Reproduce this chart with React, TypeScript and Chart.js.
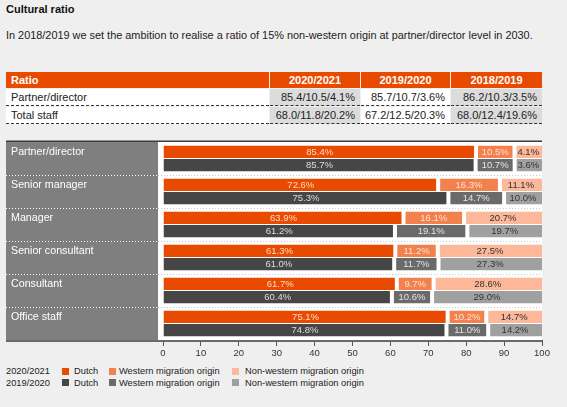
import React, { useEffect, useRef } from "react";
import { Chart, registerables } from "chart.js";

Chart.register(...registerables);

const FONT = '"Liberation Sans", Arial, Helvetica, sans-serif';

const titleText = "Cultural ratio";
const subtitleText =
  "In 2018/2019 we set the ambition to realise a ratio of 15% non-western origin at partner/director level in 2030.";

const tableHeaders = ["Ratio", "2020/2021", "2019/2020", "2018/2019"];
const tableRowLabels = ["Partner/director", "Total staff"];
const partnerRatios = ["85.4/10.5/4.1%", "85.7/10.7/3.6%", "86.2/10.3/3.5%"];
const totalStaffRatios = ["68.0/11.8/20.2%", "67.2/12.5/20.3%", "68.0/12.4/19.6%"];

const categories = [
  "Partner/director",
  "Senior manager",
  "Manager",
  "Senior consultant",
  "Consultant",
  "Office staff",
];
const periods = ["2020/2021", "2019/2020"];
const seriesNames = ["Dutch", "Western migration origin", "Non-western migration origin"];

const dutch2021 = [85.4, 72.6, 63.9, 61.3, 61.7, 75.1];
const western2021 = [10.5, 16.3, 16.1, 11.2, 9.7, 10.2];
const nonWestern2021 = [4.1, 11.1, 20.7, 27.5, 28.6, 14.7];
const dutch2020 = [85.7, 75.3, 61.2, 61.0, 60.4, 74.8];
const western2020 = [10.7, 14.7, 19.1, 11.7, 10.6, 11.0];
const nonWestern2020 = [3.6, 10.0, 19.7, 27.3, 29.0, 14.2];

const xMin = 0;
const xMax = 100;
const xStep = 10;

const colors2021 = ["#e84b00", "#f3814d", "#fcb898"];
const colors2020 = ["#464646", "#6a6a6a", "#a0a0a0"];
const labelColors2021 = ["#ffd9c6", "#fde2d4", "#333333"];
const labelColors2020 = ["#dddddd", "#e4e4e4", "#333333"];

const PAGE_BG = "#efefef";
const PANEL_GRAY = "#7f7f7f";

// Like the source infographic: tiny segments get a minimum width so their
// label fits, then each bar is normalised to fill at most 100.
const MIN_SEGMENT = 7.5;
function displayStack(series: number[][]): number[][] {
  const out = series.map(() => [] as number[]);
  for (let i = 0; i < series[0].length; i++) {
    const vals = series.map((s) => Math.max(s[i], MIN_SEGMENT));
    const sum = vals.reduce((a, b) => a + b, 0);
    const k = sum > xMax ? xMax / sum : 1;
    vals.forEach((v, j) => out[j].push(v * k));
  }
  return out;
}

export default function App() {
  const canvasRef = useRef<HTMLCanvasElement | null>(null);

  useEffect(() => {
    document.body.style.margin = "0";
    document.body.style.background = PAGE_BG;
    const canvas = canvasRef.current;
    if (!canvas) return;

    const raw2021 = [dutch2021, western2021, nonWestern2021];
    const raw2020 = [dutch2020, western2020, nonWestern2020];
    const disp2021 = displayStack(raw2021);
    const disp2020 = displayStack(raw2020);
    const rawAll = [...raw2021, ...raw2020];

    const mk = (
      label: string,
      data: number[],
      color: string,
      stack: string,
      idx: number
    ) => ({
      label,
      data,
      backgroundColor: color,
      borderColor: "#ffffff",
      borderWidth: { top: 0, bottom: 0, left: idx > 0 ? 2 : 0, right: idx < 2 ? 2 : 0 },
      borderSkipped: false,
      stack,
      barPercentage: 0.93,
      categoryPercentage: 0.81,
    });

    const datasets = [
      mk(seriesNames[0], disp2021[0], colors2021[0], "a", 0),
      mk(seriesNames[1], disp2021[1], colors2021[1], "a", 1),
      mk(seriesNames[2], disp2021[2], colors2021[2], "a", 2),
      mk(seriesNames[0], disp2020[0], colors2020[0], "b", 0),
      mk(seriesNames[1], disp2020[1], colors2020[1], "b", 1),
      mk(seriesNames[2], disp2020[2], colors2020[2], "b", 2),
    ];
    const labelColors = [...labelColors2021, ...labelColors2020];

    const decor = {
      id: "decor",
      beforeDatasetsDraw(chart: any) {
        const { ctx, chartArea } = chart;
        const top = chartArea.top;
        const bottom = chartArea.bottom;
        const right = chartArea.right;
        ctx.save();
        ctx.fillStyle = PANEL_GRAY;
        ctx.fillRect(6, top, 152, bottom - top);
        ctx.fillStyle = "#ffffff";
        ctx.fillRect(158, top, right - 158, bottom - top);
        const rowH = (bottom - top) / categories.length;
        ctx.lineWidth = 1;
        ctx.setLineDash([1, 2]);
        for (let i = 1; i < categories.length; i++) {
          const y = Math.round(top + rowH * i) + 0.5;
          ctx.strokeStyle = "#ffffff";
          ctx.beginPath();
          ctx.moveTo(6, y);
          ctx.lineTo(158, y);
          ctx.stroke();
          ctx.strokeStyle = "#c8c8c8";
          ctx.beginPath();
          ctx.moveTo(158, y);
          ctx.lineTo(right, y);
          ctx.stroke();
        }
        ctx.setLineDash([]);
        ctx.fillStyle = "#ffffff";
        ctx.font = `10.7px ${FONT}`;
        ctx.textAlign = "left";
        ctx.textBaseline = "top";
        categories.forEach((c, i) => {
          ctx.fillText(c, 11, top + rowH * i + 5);
        });
        ctx.restore();
      },
      afterDatasetsDraw(chart: any) {
        const { ctx } = chart;
        ctx.save();
        ctx.font = `9.5px ${FONT}`;
        ctx.textAlign = "center";
        ctx.textBaseline = "middle";
        chart.data.datasets.forEach((_ds: any, di: number) => {
          const meta = chart.getDatasetMeta(di);
          meta.data.forEach((bar: any, i: number) => {
            const p = bar.getProps(["x", "y", "base"], true);
            const v = rawAll[di][i];
            ctx.fillStyle = labelColors[di];
            ctx.fillText(v.toFixed(1) + "%", (p.x + p.base) / 2, p.y + 0.5);
          });
        });
        ctx.restore();
      },
      afterDraw(chart: any) {
        const { ctx, chartArea } = chart;
        ctx.save();
        ctx.fillStyle = "#3c3c3c";
        ctx.fillRect(6, chartArea.top - 1.5, chartArea.right - 6, 1.5);
        ctx.fillStyle = "#6a6a6a";
        ctx.fillRect(6, chartArea.bottom, chartArea.right - 6, 2);
        ctx.restore();
      },
    };

    const chart = new Chart(canvas, {
      type: "bar",
      data: { labels: categories, datasets: datasets as any },
      options: {
        indexAxis: "y",
        animation: false,
        responsive: false,
        maintainAspectRatio: false,
        layout: { padding: { left: 163, right: 25, top: 4, bottom: 0 } },
        plugins: {
          legend: { display: false },
          tooltip: { enabled: false },
          title: { display: false },
        },
        scales: {
          y: {
            type: "category",
            stacked: true,
            display: false,
          },
          x: {
            type: "linear",
            stacked: true,
            min: xMin,
            max: xMax,
            position: "bottom",
            afterFit(scale: any) {
              scale.height = 22;
            },
            border: { display: false },
            grid: {
              drawOnChartArea: false,
              drawTicks: true,
              tickLength: 6,
              color: "#555555",
              lineWidth: 1,
            },
            ticks: {
              stepSize: xStep,
              padding: 2,
              color: "#333333",
              font: { family: FONT, size: 9.5 },
              maxRotation: 0,
            },
          },
        },
      } as any,
      plugins: [decor],
    });

    return () => chart.destroy();
  }, []);

  const colLefts = [6, 270, 361, 451];
  const colWidths = [263, 90, 89, 91];
  const grayCols = [true, false, true];

  const cellText: React.CSSProperties = {
    position: "absolute",
    fontFamily: FONT,
    fontSize: 11,
    color: "#222",
    boxSizing: "border-box",
    display: "flex",
    alignItems: "center",
  };

  const rows = [partnerRatios, totalStaffRatios];
  const rowTops = [88.5, 106.5];
  const rowH = 17.5;

  const legendRowTops = [366, 377.5];
  const legendColors = [colors2021, colors2020];
  const squareX = [62, 109, 232];
  const textX = [74, 119, 245];

  return (
    <div
      style={{
        position: "relative",
        width: 567,
        height: 407,
        background: PAGE_BG,
        overflow: "hidden",
        fontFamily: FONT,
      }}
    >
      <div
        style={{
          position: "absolute",
          left: 6,
          top: 4,
          fontSize: 11,
          lineHeight: "11px",
          fontWeight: "bold",
          color: "#111",
          whiteSpace: "nowrap",
        }}
      >
        {titleText}
      </div>
      <div
        style={{
          position: "absolute",
          left: 6,
          top: 30,
          fontSize: 10.9,
          lineHeight: "11px",
          color: "#222",
          whiteSpace: "nowrap",
        }}
      >
        {subtitleText}
      </div>

      {tableHeaders.map((h, i) => (
        <div
          key={"h" + i}
          style={{
            ...cellText,
            left: colLefts[i],
            top: 71.5,
            width: colWidths[i],
            height: 16.5,
            background: "#e84b00",
            color: "#ffffff",
            fontWeight: "bold",
            justifyContent: i === 0 ? "flex-start" : "center",
            paddingLeft: i === 0 ? 5 : 0,
          }}
        >
          {h}
        </div>
      ))}

      {rows.map((vals, r) => (
        <React.Fragment key={"r" + r}>
          <div
            style={{
              ...cellText,
              left: colLefts[0],
              top: rowTops[r],
              width: colWidths[0],
              height: rowH,
              background: "#ffffff",
              paddingLeft: 5,
              borderBottom: "1px dashed #333",
            }}
          >
            {tableRowLabels[r]}
          </div>
          {vals.map((v, c) => (
            <div
              key={c}
              style={{
                ...cellText,
                left: colLefts[c + 1],
                top: rowTops[r],
                width: colWidths[c + 1],
                height: rowH,
                background: grayCols[c] ? "#dcdcdc" : "#ffffff",
                justifyContent: "flex-end",
                paddingRight: 5,
                borderBottom: "1px dashed #333",
              }}
            >
              {v}
            </div>
          ))}
        </React.Fragment>
      ))}

      <canvas
        ref={canvasRef}
        width={567}
        height={224}
        style={{ position: "absolute", left: 0, top: 138, width: 567, height: 224 }}
      />

      {periods.map((p, r) => (
        <React.Fragment key={"l" + r}>
          <div
            style={{
              position: "absolute",
              left: 6,
              top: legendRowTops[r],
              fontSize: 9.3,
              lineHeight: "10px",
              color: "#222",
              whiteSpace: "nowrap",
            }}
          >
            {p}
          </div>
          {seriesNames.map((s, i) => (
            <React.Fragment key={i}>
              <div
                style={{
                  position: "absolute",
                  left: squareX[i],
                  top: legendRowTops[r] + 1.5,
                  width: 7,
                  height: 7,
                  background: legendColors[r][i],
                }}
              />
              <div
                style={{
                  position: "absolute",
                  left: textX[i],
                  top: legendRowTops[r],
                  fontSize: 9.3,
                  lineHeight: "10px",
                  color: "#222",
                  whiteSpace: "nowrap",
                }}
              >
                {s}
              </div>
            </React.Fragment>
          ))}
        </React.Fragment>
      ))}
    </div>
  );
}
